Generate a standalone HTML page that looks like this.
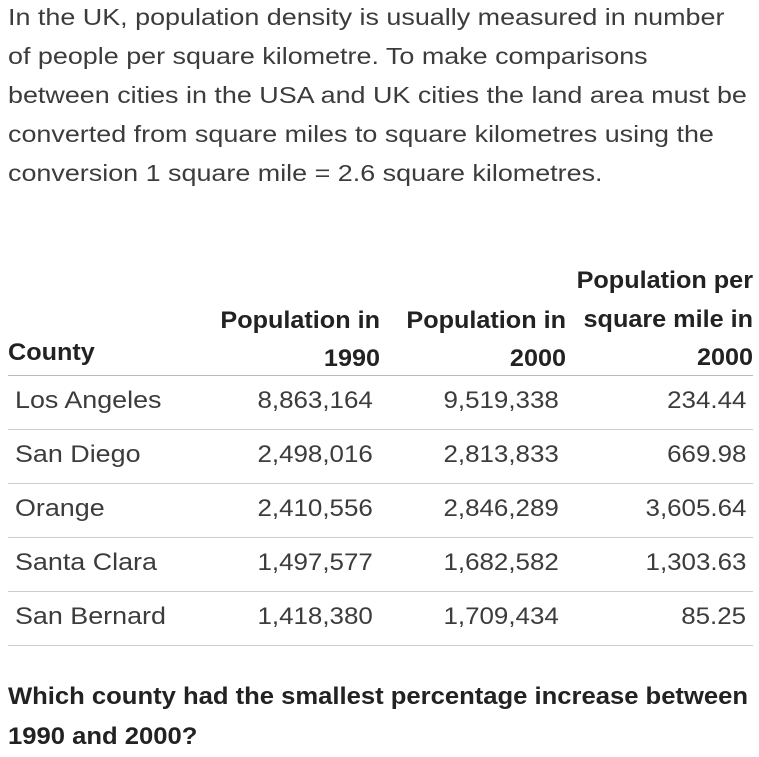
<!DOCTYPE html>
<html><head><meta charset="utf-8"><style>
body{margin:0;width:759px;height:750px;background:#fff;font-family:"Liberation Sans",Arial,sans-serif;color:#3c3c3c;position:relative;overflow:hidden}
.p{position:absolute;left:8px;top:0;font-size:23.5px;line-height:39px;width:760px}
.p div{white-space:nowrap;transform:scaleX(1.145);transform-origin:left}
.t{position:absolute;white-space:nowrap;font-size:24px;line-height:28px}
.b{font-weight:bold;color:#222;transform:scaleX(1.05)}
.r{text-align:right;transform-origin:right}
.l{transform-origin:left}
.txt{transform:scaleX(1.12)}
.num{transform:scaleX(1.08)}
.line{position:absolute;left:8px;width:745px;height:1px;background:#ccc}
</style></head><body>
<div class="p" style="top:-2px">
<div>In the UK, population density is usually measured in number</div>
<div>of people per square kilometre. To make comparisons</div>
<div>between cities in the USA and UK cities the land area must be</div>
<div>converted from square miles to square kilometres using the</div>
<div>conversion 1 square mile = 2.6 square kilometres.</div>
</div>
<div>
<div class="t b l" style="left:8px;top:339px">County</div>
<div class="t b r" style="right:379px;top:302px;line-height:38px">Population in<br>1990</div>
<div class="t b r" style="right:193px;top:302px;line-height:38px">Population in<br>2000</div>
<div class="t b r" style="right:6px;top:262px;line-height:38.5px">Population per<br>square mile in<br>2000</div>
<div class="line" style="top:375px;background:#bbb"></div>
<div id="rows"></div>
</div>
<div class="t b l" style="left:8px;top:677px;line-height:40px;transform:scaleX(1.067)">Which county had the smallest percentage increase between<br>1990 and 2000?</div>
<script>
const counties=["Los Angeles","San Diego","Orange","Santa Clara","San Bernard"];
const pop1990=["8,863,164","2,498,016","2,410,556","1,497,577","1,418,380"];
const pop2000=["9,519,338","2,813,833","2,846,289","1,682,582","1,709,434"];
const density=["234.44","669.98","3,605.64","1,303.63","85.25"];
const rows=document.getElementById('rows');
counties.forEach((c,i)=>{
 const top=387+i*54;
 const mk=(txt,cls,style,name)=>{const d=document.createElement('div');d.className='t '+cls;d.style.cssText=style+';top:'+top+'px';d.textContent=txt;
 
 
 rows.appendChild(d);};
 mk(c,'l txt','left:15px','county-cell');
 mk(pop1990[i],'r num','right:386px','pop-1990-cell');
 mk(pop2000[i],'r num','right:200px','pop-2000-cell');
 mk(density[i],'r num','right:13px','density-cell');
 const l=document.createElement('div');l.className='line';l.style.top=(top+42)+'px';
 
 
 rows.appendChild(l);
});
</script>
</body></html>
